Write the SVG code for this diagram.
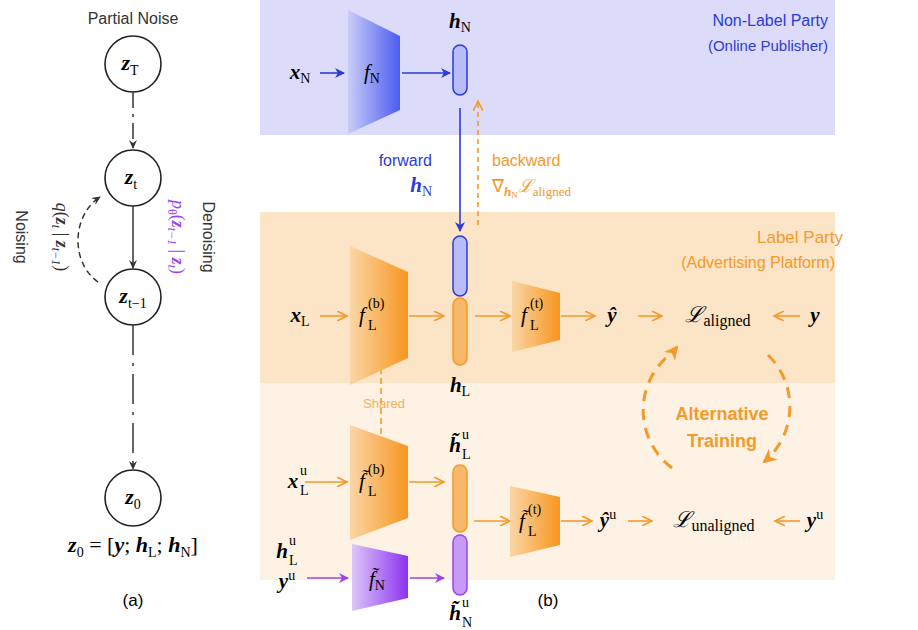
<svg xmlns="http://www.w3.org/2000/svg" width="918" height="630" viewBox="0 0 918 630">
<defs>
<style>
.s{font-family:"Liberation Sans",Arial,sans-serif}
.m{font-family:"Liberation Serif","Times New Roman",serif}
.b{font-weight:bold;font-style:italic}
.i{font-style:italic}
.o{fill:#f39a2a}.bl{fill:#2a3bd8}.pu{fill:#9b45f0}
.node{fill:#fff;stroke:#222;stroke-width:1.6}
.k{stroke:#333;stroke-width:1.5;fill:none}
.ol{stroke:#f39a2a;stroke-width:1.6;fill:none}
.bll{stroke:#2a3bd8;stroke-width:1.6;fill:none}
.pul{stroke:#9b45f0;stroke-width:1.6;fill:none}
.sb{font-size:14px;font-weight:normal;font-style:normal}
</style>
<marker id="ak" markerWidth="10" markerHeight="10" refX="8" refY="4" orient="auto" markerUnits="userSpaceOnUse"><path d="M0,0 L9,4 L0,8 L3,4z" fill="#333"/></marker>
<marker id="ao" markerWidth="12" markerHeight="10" refX="9" refY="5" orient="auto" markerUnits="userSpaceOnUse"><path d="M0,0 L10,5 L0,10" fill="none" stroke="#f39a2a" stroke-width="1.6"/></marker>
<marker id="aof" markerWidth="16" markerHeight="14" refX="12" refY="7" orient="auto" markerUnits="userSpaceOnUse"><path d="M0,0 L14,7 L0,14 L4,7z" fill="#f39a2a"/></marker>
<marker id="ab" markerWidth="12" markerHeight="10" refX="9" refY="5" orient="auto" markerUnits="userSpaceOnUse"><path d="M0,0 L10,5 L0,10 L3,5z" fill="#2a3bd8"/></marker>
<marker id="ap" markerWidth="12" markerHeight="10" refX="9" refY="5" orient="auto" markerUnits="userSpaceOnUse"><path d="M0,0 L10,5 L0,10 L3,5z" fill="#9b45f0"/></marker>
<linearGradient id="gb" x1="0" x2="1"><stop offset="0" stop-color="#c9ccf8"/><stop offset="1" stop-color="#4c5cf0"/></linearGradient>
<linearGradient id="go" x1="0" x2="1"><stop offset="0" stop-color="#fbd6a6"/><stop offset="1" stop-color="#f7961f"/></linearGradient>
<linearGradient id="gp" x1="0" x2="1"><stop offset="0" stop-color="#ddc6fa"/><stop offset="1" stop-color="#8c33ee"/></linearGradient>
</defs>
<rect width="918" height="630" fill="#fff"/>
<rect x="260" y="0" width="575" height="135" fill="#dcdcfa"/>
<rect x="260" y="212" width="575" height="171" fill="#fce4c6"/>
<rect x="260" y="383" width="575" height="197" fill="#fef2e4"/>

<g id="panel-a">
<text x="133" y="24" class="s" font-size="16" text-anchor="middle" fill="#333">Partial Noise</text>
<g id="zT"><circle cx="133" cy="64" r="28" class="node"/><text x="130" y="70" class="m b" font-size="22" text-anchor="middle">z<tspan class="sb i" dy="5">T</tspan></text></g>
<g id="zt"><circle cx="133" cy="178" r="28" class="node"/><text x="131" y="184" class="m b" font-size="22" text-anchor="middle">z<tspan class="sb i" dy="5">t</tspan></text></g>
<g id="zt1"><circle cx="133" cy="297" r="28" class="node"/><text x="133" y="303" class="m b" font-size="22" text-anchor="middle">z<tspan class="sb i" dy="5">t−1</tspan></text></g>
<g id="z0"><circle cx="133" cy="498" r="28" class="node"/><text x="133" y="504" class="m b" font-size="22" text-anchor="middle">z<tspan class="sb" dy="5">0</tspan></text></g>
<text x="133" y="552" class="m" font-size="22" text-anchor="middle"><tspan class="b">z</tspan><tspan class="sb" dy="5">0</tspan><tspan dy="-5"> = [</tspan><tspan class="b">y</tspan>; <tspan class="b">h</tspan><tspan class="sb" dy="5">L</tspan><tspan dy="-5">; </tspan><tspan class="b">h</tspan><tspan class="sb" dy="5">N</tspan><tspan dy="-5">]</tspan></text>
<text x="133" y="606" class="s" font-size="17" text-anchor="middle">(a)</text>
<text transform="translate(16,237) rotate(90)" class="s" font-size="16" text-anchor="middle" fill="#333">Noising</text>
<text transform="translate(203,237) rotate(90)" class="s" font-size="16" text-anchor="middle" fill="#333">Denoising</text>
<text transform="translate(56,237) rotate(90)" class="m" font-size="18" text-anchor="middle" fill="#333"><tspan class="i">q</tspan>(<tspan class="b">z</tspan><tspan class="i" font-size="12" dy="4">t</tspan><tspan dy="-4"> | </tspan><tspan class="b">z</tspan><tspan class="i" font-size="12" dy="4">t−1</tspan><tspan dy="-4">)</tspan></text>
<text transform="translate(172,237) rotate(90)" class="m pu" font-size="18" text-anchor="middle"><tspan class="i">p</tspan><tspan font-size="12" dy="4">θ</tspan><tspan dy="-4">(</tspan><tspan class="b">z</tspan><tspan class="i" font-size="12" dy="4">t−1</tspan><tspan dy="-4"> | </tspan><tspan class="b">z</tspan><tspan class="i" font-size="12" dy="4">t</tspan><tspan dy="-4">)</tspan></text>
</g>

<g id="connectors">
<path d="M133 92 V148" class="k" stroke-dasharray="16 6 3 6" marker-end="url(#ak)"/>
<path d="M133 206 V268" class="k" marker-end="url(#ak)"/>
<path d="M133 325 V469" class="k" stroke-dasharray="30 8 3 8" marker-end="url(#ak)"/>
<path d="M98 282 C70 262 72 215 100 197" class="k" stroke-dasharray="6 4" marker-end="url(#ak)"/>
<path d="M320 73 H344" class="bll" marker-end="url(#ab)"/>
<path d="M402 73 H450" class="bll" marker-end="url(#ab)"/>
<path d="M460 108 V231" class="bll" marker-end="url(#ab)"/>
<path d="M478 225 V102" class="ol" stroke-dasharray="5 4" marker-end="url(#ao)"/>
<path d="M320 316 H346" class="ol" marker-end="url(#ao)"/>
<path d="M409 316 H443" class="ol" marker-end="url(#ao)"/>
<path d="M475 316 H509" class="ol" marker-end="url(#ao)"/>
<path d="M561 316 H594" class="ol" marker-end="url(#ao)"/>
<path d="M638 316 H661" class="ol" marker-end="url(#ao)"/>
<path d="M800 316 H775" class="ol" marker-end="url(#ao)"/>
<path d="M381 358 V450" class="ol" stroke-dasharray="6 4" stroke-width="1.2"/>
<path d="M305 482 H346" class="ol" marker-end="url(#ao)"/>
<path d="M409 482 H443" class="ol" marker-end="url(#ao)"/>
<path d="M474 521 H509" class="ol" marker-end="url(#ao)"/>
<path d="M561 521 H591" class="ol" marker-end="url(#ao)"/>
<path d="M628 521 H651" class="ol" marker-end="url(#ao)"/>
<path d="M800 521 H776" class="ol" marker-end="url(#ao)"/>
<path d="M307 578 H348" class="pul" marker-end="url(#ap)"/>
<path d="M410 578 H444" class="pul" marker-end="url(#ap)"/>
<path d="M672 468 A72 72 0 0 1 673 352 L677 347" stroke="#f39a2a" stroke-width="3" fill="none" stroke-dasharray="11 8" marker-end="url(#aof)"/>
<path d="M768 355 A72 72 0 0 1 764 462" stroke="#f39a2a" stroke-width="3" fill="none" stroke-dasharray="11 8" marker-end="url(#aof)"/>
</g>

<g id="non-label">
<text x="828" y="26" class="s bl" font-size="16" text-anchor="end">Non-Label Party</text>
<text x="828" y="51" class="s bl" font-size="15" text-anchor="end">(Online Publisher)</text>
<text x="300" y="79" class="m b" font-size="21" text-anchor="middle">x<tspan class="sb" dy="4">N</tspan></text>
<g id="fN"><path d="M348 10 L400 36 L400 110 L348 134 Z" fill="url(#gb)"/><text x="372" y="79" class="m i" font-size="21" text-anchor="middle">f<tspan class="sb" dy="4">N</tspan></text></g>
<g id="hN"><rect x="453" y="45" width="14" height="50" rx="7" fill="#b9bcfb" stroke="#2a3bd8" stroke-width="1.5"/><text x="460" y="28" class="m b" font-size="21" text-anchor="middle">h<tspan class="sb" dy="4">N</tspan></text></g>
<text x="432" y="166" class="s bl" font-size="16" text-anchor="end">forward</text>
<text x="432" y="192" class="m b bl" font-size="21" text-anchor="end">h<tspan class="sb" dy="4">N</tspan></text>
<text x="492" y="166" class="s o" font-size="16">backward</text>
<text x="492" y="192" class="m o" font-size="18">∇<tspan class="b" font-size="13" dy="4">h</tspan><tspan font-size="9" dy="2">N</tspan><tspan dy="-6" class="i">ℒ</tspan><tspan font-size="13" dy="4">aligned</tspan></text>
</g>

<g id="label-party">
<text x="800" y="243" class="s o" font-size="17" text-anchor="middle">Label Party</text>
<text x="835" y="268" class="s o" font-size="16" text-anchor="end">(Advertising Platform)</text>
<text x="300" y="322" class="m b" font-size="21" text-anchor="middle">x<tspan class="sb" dy="4">L</tspan></text>
<g id="fLb"><path d="M350 246 L408 272 L408 358 L350 385 Z" fill="url(#go)"/><text x="362" y="322" class="m i" font-size="21" text-anchor="middle">f</text><text x="368" y="330" class="m" font-size="14">L</text><text x="368" y="308" class="m" font-size="14">(b)</text></g>
<g id="hL"><rect x="453" y="236" width="14" height="60" rx="7" fill="#b9bcfb" stroke="#2a3bd8" stroke-width="1.5"/><rect x="453" y="298" width="14" height="67" rx="7" fill="#f8b86a" stroke="#f39a2a" stroke-width="1.5"/><text x="460" y="392" class="m b" font-size="21" text-anchor="middle">h<tspan class="sb" dy="4">L</tspan></text></g>
<g id="fLt"><path d="M512 281 L560 293 L560 340 L512 352 Z" fill="url(#go)"/><text x="524" y="322" class="m i" font-size="21" text-anchor="middle">f</text><text x="530" y="330" class="m" font-size="14">L</text><text x="530" y="308" class="m" font-size="14">(t)</text></g>
<text x="612" y="322" class="m b" font-size="21" text-anchor="middle">ŷ</text>
<text x="718" y="322" class="m" font-size="22" text-anchor="middle"><tspan class="i">ℒ</tspan><tspan font-size="16" dy="4">aligned</tspan></text>
<text x="815" y="322" class="m b" font-size="21" text-anchor="middle">y</text>
<text x="384" y="408" class="s o" font-size="13" text-anchor="middle" opacity="0.75">Shared</text>
</g>

<g id="unaligned">
<text x="293" y="488" class="m b" font-size="21" text-anchor="middle">x</text><text x="300" y="495" class="m" font-size="14">L</text><text x="300" y="475" class="m" font-size="14">u</text>
<g id="fLbu"><path d="M350 425 L408 446 L408 518 L350 540 Z" fill="url(#go)"/><text x="362" y="488" class="m i" font-size="21" text-anchor="middle">f̃</text><text x="368" y="496" class="m" font-size="14">L</text><text x="368" y="474" class="m" font-size="14">(b)</text></g>
<g id="hLu"><rect x="453" y="465" width="14" height="67" rx="7" fill="#f8b86a" stroke="#f39a2a" stroke-width="1.5"/><rect x="453" y="535" width="14" height="60" rx="7" fill="#c69af6" stroke="#9b45f0" stroke-width="1.5"/>
<text x="455" y="452" class="m b" font-size="21" text-anchor="middle">h̃</text><text x="462" y="459" class="m" font-size="14">L</text><text x="462" y="439" class="m" font-size="14">u</text>
<text x="455" y="620" class="m b" font-size="21" text-anchor="middle">h̃</text><text x="462" y="627" class="m" font-size="14">N</text><text x="462" y="607" class="m" font-size="14">u</text></g>
<g id="fLtu"><path d="M510 486 L560 497 L560 545 L510 557 Z" fill="url(#go)"/><text x="522" y="528" class="m i" font-size="21" text-anchor="middle">f̃</text><text x="528" y="536" class="m" font-size="14">L</text><text x="528" y="514" class="m" font-size="14">(t)</text></g>
<text x="608" y="527" class="m b" font-size="21" text-anchor="middle">ŷ<tspan class="sb" dy="-8">u</tspan></text>
<text x="714" y="527" class="m" font-size="22" text-anchor="middle"><tspan class="i">ℒ</tspan><tspan font-size="16" dy="4">unaligned</tspan></text>
<text x="815" y="527" class="m b" font-size="21" text-anchor="middle">y<tspan class="sb" dy="-8">u</tspan></text>
<text x="282" y="558" class="m b" font-size="21" text-anchor="middle">h</text><text x="289" y="565" class="m" font-size="14">L</text><text x="289" y="545" class="m" font-size="14">u</text>
<text x="287" y="588" class="m b" font-size="21" text-anchor="middle">y<tspan class="sb" dy="-8">u</tspan></text>
<g id="fNu"><path d="M352 544 L408 556 L408 598 L352 611 Z" fill="url(#gp)"/><text x="377" y="586" class="m i" font-size="21" text-anchor="middle">f̃<tspan class="sb" dy="4">N</tspan></text></g>
<text x="722" y="420" class="s o" font-size="18" font-weight="bold" text-anchor="middle">Alternative</text>
<text x="722" y="447" class="s o" font-size="18" font-weight="bold" text-anchor="middle">Training</text>
</g>
<text x="548" y="606" class="s" font-size="17" text-anchor="middle">(b)</text>
</svg>
